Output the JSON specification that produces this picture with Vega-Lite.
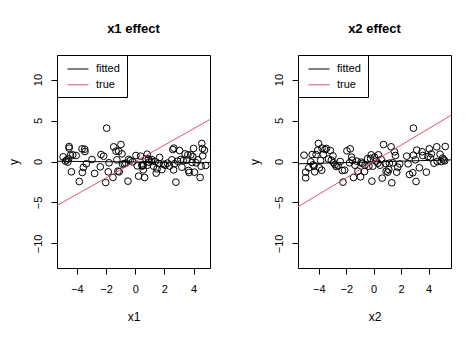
{
  "$schema": "https://vega.github.io/schema/vega-lite/v6.json",
  "padding": {"left": 6, "top": 22, "right": 0, "bottom": 0},
  "background": "white",
  "config": {
    "font": "Liberation Sans",
    "view": {"stroke": "black", "strokeWidth": 1},
    "axis": {
      "domain": false, "grid": false, "tickColor": "black", "tickSize": 6, "tickWidth": 1,
      "labelFont": "Liberation Sans", "labelFontSize": 11, "labelColor": "black",
      "titleFont": "Liberation Sans", "titleFontSize": 12, "titleFontWeight": "normal", "titleColor": "black"
    },
    "axisX": {"labelPadding": 9, "titlePadding": 17, "labelFlush": false, "labelOverlap": false},
    "axisY": {"labelAngle": -90, "labelAlign": "center", "labelBaseline": "alphabetic", "labelPadding": 10, "titlePadding": 12, "titleAngle": -90},
    "title": {"font": "Liberation Sans", "fontSize": 13, "fontWeight": "bold", "color": "black", "offset": 19, "anchor": "middle"},
    "legend": {
      "orient": "none", "legendX": 0, "legendY": 0, "title": null,
      "strokeColor": "black", "fillColor": "white", "padding": 6.5, "cornerRadius": 0,
      "symbolType": "M-0.5,0H2.5", "symbolSize": 196, "symbolStrokeWidth": 1,
      "labelFont": "Liberation Sans", "labelFontSize": 11, "labelColor": "black", "labelOffset": 17.5, "rowPadding": 2.8
    }
  },
  "datasets": {
    "pts1": [
      {"x": -4.95, "y": 0.57}, {"x": -4.79, "y": 0.04}, {"x": -4.57, "y": 0.33}, {"x": -4.63, "y": -0.08},
      {"x": -4.54, "y": 1.83}, {"x": -4.54, "y": 1.63}, {"x": -4.45, "y": 0.77}, {"x": -4.29, "y": 0.81},
      {"x": -4.06, "y": 0.73}, {"x": -4.38, "y": -1.26}, {"x": -3.84, "y": -2.44}, {"x": -3.65, "y": 1.54},
      {"x": -3.47, "y": 1.5}, {"x": -3.45, "y": 1.22}, {"x": -3.56, "y": -0.73}, {"x": -3.63, "y": -1.34},
      {"x": -3.36, "y": -0.28}, {"x": -2.97, "y": 0.24}, {"x": -2.79, "y": -1.46}, {"x": -2.4, "y": -0.65},
      {"x": -2.35, "y": 0.85}, {"x": -2.17, "y": 0.65}, {"x": -2.03, "y": -2.56}, {"x": -1.96, "y": 4.07},
      {"x": -1.85, "y": -1.26}, {"x": -1.8, "y": -0.16}, {"x": -1.53, "y": -1.95}, {"x": -1.48, "y": 1.79},
      {"x": -1.32, "y": 1.26}, {"x": -1.14, "y": 1.26}, {"x": -1.26, "y": 0.2}, {"x": -1.19, "y": -1.18},
      {"x": -1.1, "y": -1.26}, {"x": -0.98, "y": 2.07}, {"x": -0.91, "y": 0.93}, {"x": -0.87, "y": -0.33},
      {"x": -0.75, "y": -0.28}, {"x": -0.64, "y": -0.2}, {"x": -0.5, "y": -2.4}, {"x": -0.34, "y": 0.12},
      {"x": -0.18, "y": -0.04}, {"x": 0.05, "y": 0.73}, {"x": 0.14, "y": -0.53}, {"x": 0.23, "y": -1.79},
      {"x": 0.37, "y": 0.65}, {"x": 0.46, "y": -0.45}, {"x": 0.48, "y": -0.57}, {"x": 0.55, "y": -1.02},
      {"x": 0.64, "y": -1.95}, {"x": 0.73, "y": 0.33}, {"x": 0.82, "y": 0.89}, {"x": 0.84, "y": -0.45},
      {"x": 0.94, "y": -0.08}, {"x": 1.14, "y": 0.24}, {"x": 1.26, "y": -0.57}, {"x": 1.37, "y": 0.0},
      {"x": 1.44, "y": -1.42}, {"x": 1.6, "y": -0.24}, {"x": 1.67, "y": 0.49}, {"x": 1.83, "y": -0.98},
      {"x": 1.94, "y": -0.33}, {"x": 2.05, "y": -0.45}, {"x": 2.21, "y": -0.2}, {"x": 2.51, "y": 0.2},
      {"x": 2.58, "y": 1.46}, {"x": 2.65, "y": 1.63}, {"x": 2.63, "y": -1.02}, {"x": 2.69, "y": -0.28},
      {"x": 2.79, "y": -2.52}, {"x": 2.9, "y": 0.04}, {"x": 3.04, "y": 1.34}, {"x": 3.13, "y": 0.24},
      {"x": 3.2, "y": -0.69}, {"x": 3.42, "y": 0.93}, {"x": 3.54, "y": 0.16}, {"x": 3.61, "y": 0.81},
      {"x": 3.65, "y": -1.1}, {"x": 3.7, "y": -1.34}, {"x": 3.81, "y": 0.81}, {"x": 3.9, "y": -0.12},
      {"x": 4.0, "y": 1.59}, {"x": 4.06, "y": -1.3}, {"x": 4.18, "y": -0.16}, {"x": 4.29, "y": 0.2},
      {"x": 4.45, "y": -1.95}, {"x": 4.52, "y": -0.57}, {"x": 4.57, "y": 2.2}, {"x": 4.61, "y": 1.59},
      {"x": 4.63, "y": 0.69}, {"x": 4.75, "y": 1.38}, {"x": 4.84, "y": -0.49}, {"x": 1.1, "y": 0.04},
      {"x": 0.55, "y": -0.45}, {"x": -0.45, "y": 0.25}, {"x": 2.35, "y": -0.55}, {"x": 3.3, "y": 0.1},
      {"x": -4.7, "y": 0.2}, {"x": 0.9, "y": 0.3}, {"x": 1.5, "y": -0.9}, {"x": 3.95, "y": 0.6}
    ],
    "pts2": [
      {"x": -5.08, "y": 0.77}, {"x": -4.96, "y": -1.3}, {"x": -4.96, "y": -1.99}, {"x": -4.74, "y": -0.77},
      {"x": -4.59, "y": -0.04}, {"x": -4.49, "y": 0.85}, {"x": -4.42, "y": -0.41}, {"x": -4.35, "y": -0.57},
      {"x": -4.3, "y": -1.26}, {"x": -4.2, "y": 0.85}, {"x": -4.08, "y": 1.38}, {"x": -4.03, "y": 2.2},
      {"x": -3.96, "y": -0.77}, {"x": -3.87, "y": 0.12}, {"x": -3.79, "y": -1.06}, {"x": -3.77, "y": 1.63},
      {"x": -3.67, "y": 0.85}, {"x": -3.55, "y": 1.46}, {"x": -3.45, "y": 1.59}, {"x": -3.16, "y": 1.34},
      {"x": -3.09, "y": 0.16}, {"x": -2.97, "y": 0.69}, {"x": -2.92, "y": -0.16}, {"x": -2.82, "y": -0.37},
      {"x": -2.73, "y": -0.61}, {"x": -2.44, "y": 0.0}, {"x": -2.29, "y": -1.1}, {"x": -2.24, "y": -2.52},
      {"x": -2.12, "y": -1.06}, {"x": -1.95, "y": 1.3}, {"x": -1.71, "y": 1.54}, {"x": -1.76, "y": -0.16},
      {"x": -1.61, "y": 0.53}, {"x": -1.56, "y": 0.16}, {"x": -1.47, "y": -1.95}, {"x": -1.37, "y": -0.45},
      {"x": -1.22, "y": 0.04}, {"x": -1.15, "y": -1.18}, {"x": -0.96, "y": -1.87}, {"x": -0.91, "y": -0.08},
      {"x": -0.84, "y": -0.24}, {"x": -0.67, "y": -1.22}, {"x": -0.64, "y": -0.45}, {"x": -0.45, "y": 0.33},
      {"x": -0.35, "y": -0.57}, {"x": -0.23, "y": 0.37}, {"x": -0.18, "y": 0.81}, {"x": -0.13, "y": -2.4},
      {"x": -0.06, "y": -0.57}, {"x": 0.06, "y": 0.53}, {"x": 0.18, "y": 0.04}, {"x": 0.35, "y": 0.81},
      {"x": 0.47, "y": -0.45}, {"x": 0.55, "y": 0.24}, {"x": 0.62, "y": -2.03}, {"x": 0.72, "y": 2.07},
      {"x": 0.86, "y": -0.24}, {"x": 0.91, "y": -1.18}, {"x": 1.03, "y": -1.3}, {"x": 1.1, "y": -0.98},
      {"x": 1.15, "y": -0.2}, {"x": 1.27, "y": 1.79}, {"x": 1.32, "y": -2.6}, {"x": 1.39, "y": -0.16},
      {"x": 1.52, "y": 1.18}, {"x": 1.59, "y": 0.73}, {"x": 1.68, "y": -1.3}, {"x": 1.76, "y": -0.69},
      {"x": 2.41, "y": 0.65}, {"x": 2.51, "y": -0.28}, {"x": 2.61, "y": -1.59}, {"x": 2.85, "y": -1.38},
      {"x": 2.9, "y": 4.07}, {"x": 2.9, "y": 0.77}, {"x": 3.04, "y": 0.2}, {"x": 3.09, "y": -2.44},
      {"x": 3.14, "y": 1.38}, {"x": 3.33, "y": -0.77}, {"x": 3.53, "y": 1.18}, {"x": 3.58, "y": 0.73},
      {"x": 3.84, "y": -1.3}, {"x": 3.96, "y": 0.61}, {"x": 4.06, "y": 1.54}, {"x": 4.14, "y": 0.45},
      {"x": 4.21, "y": 0.93}, {"x": 4.6, "y": 1.79}, {"x": 4.64, "y": 0.0}, {"x": 4.84, "y": 0.89},
      {"x": 4.93, "y": 0.0}, {"x": 5.03, "y": 0.41}, {"x": 5.11, "y": 0.2}, {"x": 5.22, "y": 1.83},
      {"x": 5.18, "y": 0.08}, {"x": -2.6, "y": -0.5}, {"x": 0.3, "y": -0.2}, {"x": 1.9, "y": -0.3},
      {"x": -3.3, "y": 0.3}, {"x": 4.4, "y": -0.2}
    ],
    "lines1": [
      {"series": "fitted", "x": -5.37, "y": 0.03}, {"series": "fitted", "x": 5.13, "y": -0.14},
      {"series": "true", "x": -5.37, "y": -5.37}, {"series": "true", "x": 5.13, "y": 5.13}
    ],
    "lines2": [
      {"series": "fitted", "x": -5.52, "y": -0.28}, {"series": "fitted", "x": 5.64, "y": 0.2},
      {"series": "true", "x": -5.52, "y": -5.52}, {"series": "true", "x": 5.64, "y": 5.64}
    ]
  },
  "hconcat": [
    {
      "width": 153, "height": 213,
      "title": "x1 effect",
      "layer": [
        {
          "data": {"name": "pts1"},
          "mark": {"type": "point", "shape": "circle", "filled": false, "size": 45, "strokeWidth": 1, "color": "black", "opacity": 1},
          "encoding": {
            "x": {"field": "x", "type": "quantitative", "scale": {"domain": [-5.37, 5.13], "nice": false, "zero": false}, "axis": {"title": "x1", "values": [-4, -2, 0, 2, 4], "tickCount": 10, "labelOverlap": false, "labelSeparation": 0}},
            "y": {"field": "y", "type": "quantitative", "scale": {"domain": [-13, 13], "nice": false, "zero": false}, "axis": {"title": "y", "values": [-10, -5, 0, 5, 10], "tickCount": 10, "labelOverlap": false}}
          }
        },
        {
          "data": {"name": "lines1"},
          "mark": {"type": "line", "strokeWidth": 1},
          "encoding": {
            "x": {"field": "x", "type": "quantitative"},
            "y": {"field": "y", "type": "quantitative"},
            "color": {"field": "series", "type": "nominal", "scale": {"domain": ["fitted", "true"], "range": ["black", "#DF536B"]}}
          }
        }
      ]
    },
    {
      "width": 153, "height": 213,
      "title": "x2 effect",
      "layer": [
        {
          "data": {"name": "pts2"},
          "mark": {"type": "point", "shape": "circle", "filled": false, "size": 45, "strokeWidth": 1, "color": "black", "opacity": 1},
          "encoding": {
            "x": {"field": "x", "type": "quantitative", "scale": {"domain": [-5.52, 5.64], "nice": false, "zero": false}, "axis": {"title": "x2", "values": [-4, -2, 0, 2, 4], "tickCount": 10, "labelOverlap": false, "labelSeparation": 0}},
            "y": {"field": "y", "type": "quantitative", "scale": {"domain": [-13, 13], "nice": false, "zero": false}, "axis": {"title": "y", "values": [-10, -5, 0, 5, 10], "tickCount": 10, "labelOverlap": false}}
          }
        },
        {
          "data": {"name": "lines2"},
          "mark": {"type": "line", "strokeWidth": 1},
          "encoding": {
            "x": {"field": "x", "type": "quantitative"},
            "y": {"field": "y", "type": "quantitative"},
            "color": {"field": "series", "type": "nominal", "scale": {"domain": ["fitted", "true"], "range": ["black", "#DF536B"]}}
          }
        }
      ]
    }
  ],
  "spacing": 34,
  "resolve": {"scale": {"x": "independent", "y": "independent", "color": "independent"}, "legend": {"color": "independent"}}
}
